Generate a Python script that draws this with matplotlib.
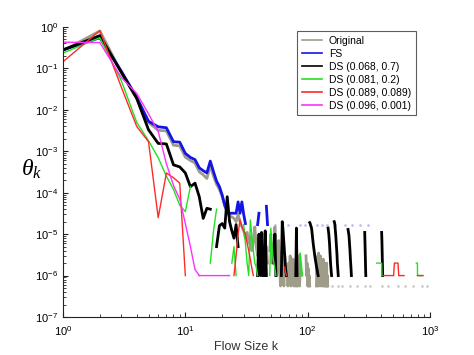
import numpy as np
import matplotlib
matplotlib.use("Agg")
import matplotlib.pyplot as plt
from matplotlib.ticker import FixedLocator, LogFormatterMathtext, NullFormatter

plt.rcParams['font.family'] = ['Liberation Sans', 'DejaVu Sans']
plt.rcParams['mathtext.fontset'] = 'custom'
plt.rcParams['mathtext.rm'] = 'Liberation Sans'
plt.rcParams['mathtext.it'] = 'Liberation Serif:italic'

# each series: runs of consecutive flow sizes (start k, values) + a few sparse points
orig_start = [1, 49, 68, 84, 97, 118]
orig_vals = [
    [0.27, 0.80, 0.08, 0.019, 5.0e-3, 3.2e-3, 3.1e-3, 1.4e-3, 1.35e-3, 7.2e-4,
     6.0e-4, 5.2e-4, 3.2e-4, 2.7e-4, 2.2e-4, 4.5e-4, 2.5e-4, 1.6e-4, 1.2e-4, 8.0e-5,
     4.8e-5, 3.3e-5, 2.8e-5, 2.6e-5, 2.4e-5, 2.0e-5, 3.0e-5, 2.0e-5, 1.5e-5, 1.2e-5,
     8e-6, 1.1e-5, 6e-6, 9e-6, 4e-6, 7e-6, 1.5e-5, 5e-6, 3e-6, 8e-6,
     2e-6, 6e-6, 4e-6, 1e-5, 3e-6, 5e-6, 2e-6],
    [4e-6, 1e-5, 2e-6, 6e-6, 3e-6, 1.5e-5, 4e-6, 1e-6, 3e-6, 7e-6,
     2e-6, 5.6e-7, 2e-6, 4e-6, 1e-6, 5.6e-7, 3e-6, 1e-6],
    [1e-6, 5.6e-7, 2e-6, 1e-6, 3e-6, 5.6e-7, 2e-6, 1e-6, 2.5e-6, 5.6e-7,
     1.5e-6, 5.6e-7, 2e-6, 1e-6, 5.6e-7],
    [1e-6, 3e-6, 5.6e-7, 2e-6, 1e-6],
    [3e-6, 1e-6, 2e-6, 5.6e-7, 1.5e-6, 5.6e-7, 1e-6, 5.6e-7],
    [5.6e-7, 2e-6, 1e-6, 3e-6, 5.6e-7, 3.5e-6, 1e-6, 2e-6, 5.6e-7, 3e-6,
     1e-6, 2e-6, 5.6e-7, 1.5e-6, 1e-6, 5.6e-7, 2.5e-6, 1e-6, 5.6e-7, 2e-6,
     5.6e-7, 1.5e-6, 5.6e-7, 1e-6, 5.6e-7, 2e-6, 5.6e-7, 1e-6, 5.6e-7],
]
orig_dot_k = [158, 177, 192, 222, 254, 295, 324, 406, 456, 551, 628, 727, 863, 954]
orig_dot_v = 5.5e-7

fs_start = [1, 39, 46]
fs_vals = [
    [0.28, 0.55, 0.085, 0.02, 5.3e-3, 3.9e-3, 3.7e-3, 1.7e-3, 1.66e-3, 8.9e-4,
     7.1e-4, 6.3e-4, 4.0e-4, 3.4e-4, 3.0e-4, 5.8e-4, 3.2e-4, 1.9e-4, 1.4e-4, 8.9e-5,
     5.0e-5, 3.5e-5, 3.2e-5, 3.2e-5, 3.2e-5, 3.2e-5, 6.0e-5, 3.2e-5, 6.0e-5, 3.0e-5,
     1.8e-5],
    [1.7e-5, 3.2e-5],
    [4.7e-5, 1.7e-5],
]
fs_dot_k = [54, 69, 87, 95, 119, 131, 144, 167, 202, 231, 268, 311]
fs_dot_v = 1.66e-5

ds1_start = [1, 18, 39, 44, 53, 61, 80, 104, 147, 165, 214, 293, 403]
ds1_vals = [
    [0.28, 0.62, 0.08, 0.019, 3.3e-3, 1.55e-3, 1.5e-3, 4.7e-4, 4.2e-4, 3.0e-4,
     1.4e-4, 1.7e-4, 8e-5, 2.4e-5, 4.2e-5, 4.0e-5],
    [5e-6, 1.6e-5, 1.8e-5, 1.4e-5, 8e-5, 2e-5, 1.2e-5, 8e-6, 1.7e-5, 5e-6],
    [1e-6, 1e-5, 1e-6, 1.1e-5, 1e-6],
    [1e-6, 1.2e-5, 1e-6],
    [2e-6, 1e-5, 1e-6],
    [1e-6, 2e-5, 1.2e-5, 6e-6, 3e-6, 1.5e-6, 1e-6],
    [1e-6, 1.4e-5, 1e-6],
    [1.9e-5, 1.8e-5, 1.6e-5, 1.5e-5, 1.3e-5, 1.0e-5, 8e-6, 6e-6, 5e-6, 4e-6,
     3.2e-6, 2.7e-6, 2.3e-6, 2e-6, 1.7e-6, 1.5e-6, 1.3e-6, 1.1e-6, 1e-6],
    [1.4e-5, 1.2e-5, 1e-5, 8e-6, 6e-6, 4e-6, 3e-6, 2e-6, 1.5e-6, 1.2e-6, 1e-6],
    [2e-5, 1.9e-5, 1.7e-5, 1.4e-5, 1.1e-5, 9e-6, 7e-6, 5e-6, 4e-6, 3e-6,
     2e-6, 1.6e-6, 1.2e-6, 1e-6],
    [1.3e-5, 1.2e-5, 1.1e-5, 1e-5, 9e-6, 7e-6, 6e-6, 5e-6, 4e-6, 3e-6,
     2.4e-6, 2e-6, 1.6e-6, 1.2e-6, 1e-6],
    [1.1e-5, 8e-6, 5e-6, 3e-6, 2e-6, 1.4e-6, 1e-6],
    [1.1e-5, 9e-6, 7e-6, 5e-6, 3.5e-6, 2.5e-6, 1.8e-6, 1.3e-6, 1e-6],
]

ds2_start = [1, 16, 24, 30, 49, 86]
ds2_vals = [
    [0.235, 0.55, 0.05, 5e-3, 1.8e-3, 7e-4, 2.5e-4, 1.2e-4, 5e-5, 3.5e-5, 1.4e-4],
    [2e-6, 1.2e-5, 4e-5],
    [2e-6, 5e-6, 1e-6],
    [1.7e-5, 6e-6, 2e-6, 1e-6, 2.2e-5, 9e-6, 4e-6, 2e-6, 1.6e-6, 1e-6],
    [1e-6, 1.4e-5, 6e-6, 3e-6, 2e-6, 1.5e-6, 1e-6],
    [1e-6, 3.5e-6, 2.5e-6, 1.8e-6, 1.3e-6, 1e-6],
]
ds2_far_k = [367, 403, 405, np.nan, 775, 790, 792, 860]
ds2_far_v = [2e-6, 2e-6, 1e-6, np.nan, 2e-6, 2e-6, 1e-6, 1e-6]

ds3_start = [1, 25, 65]
ds3_vals = [
    [0.145, 0.82, 0.035, 4e-3, 1.7e-3, 2.5e-5, 3e-4, 2.3e-4, 1.7e-4, 1e-6],
    [1e-6, 3e-6, 1e-5, 2.2e-5, 1.5e-5, 1.2e-5, 1e-5, 6e-6, 4e-6, 2.5e-6, 1.5e-6, 1e-6],
    [1.6e-6, 1.2e-6, 1e-6],
]
ds3_far_k = [415, 505, 512, 548, 556, 615, np.nan, 790, 880]
ds3_far_v = [1e-6, 1e-6, 2e-6, 2e-6, 1e-6, 1e-6, np.nan, 1e-6, 1e-6]

ds4_start = [1]
ds4_vals = [
    [0.43, 0.42, 0.06, 0.025, 8e-3, 3e-3, 5e-4, 1.5e-4, 7e-5, 1.8e-5, 5e-6, 1.4e-6, 1e-6],
]
ds4_far_k = [13, 23]
ds4_far_v = [1e-6, 1e-6]

labels = ['Original', 'FS', 'DS (0.068, 0.7)', 'DS (0.081, 0.2)',
          'DS (0.089, 0.089)', 'DS (0.096, 0.001)']
colors = ['#a09c8a', '#1414e6', '#000000', '#22e022', '#ff2a2a', '#ff30ff']
widths = [2.0, 2.0, 2.0, 1.0, 1.0, 1.0]
x_decades = [1, 10, 100, 1000]
y_decades = [1e-7, 1e-6, 1e-5, 1e-4, 1e-3, 1e-2, 1e-1, 1]


def stitch(starts, vals, far_k=None, far_v=None):
    ks, vs = [], []
    for s, v in zip(starts, vals):
        ks += list(range(s, s + len(v))) + [np.nan]
        vs += list(v) + [np.nan]
    if far_k is not None:
        ks += list(far_k)
        vs += list(far_v)
    return np.array(ks, float), np.array(vs, float)


series = [
    stitch(orig_start, orig_vals),
    stitch(fs_start, fs_vals),
    stitch(ds1_start, ds1_vals),
    stitch(ds2_start, ds2_vals, ds2_far_k, ds2_far_v),
    stitch(ds3_start, ds3_vals, ds3_far_k, ds3_far_v),
    stitch(ds4_start, ds4_vals, ds4_far_k, ds4_far_v),
]

fig = plt.figure(figsize=(4.74, 3.55), dpi=100)
ax = fig.add_axes([0.133, 0.107, 0.774, 0.817])

# faint isolated points
ax.plot(fs_dot_k, [fs_dot_v] * len(fs_dot_k), ls='none', marker='s', ms=0.8,
        color='#b8bcf0')
ax.plot(orig_dot_k, [orig_dot_v] * len(orig_dot_k), ls='none', marker='s', ms=0.8,
        color='#c8c8c0')

for (k, v), lab, c, w in zip(series, labels, colors, widths):
    ax.plot(k, v, color=c, lw=w, label=lab)

ax.set_xscale('log')
ax.set_yscale('log')
ax.set_xlim(1, 1000)
ax.set_ylim(1e-7, 1)

# minor ticks 2..9 inside each decade
x_minor = [m * d for d in x_decades[:-1] for m in range(2, 10)]
y_minor = [m * d for d in y_decades[:-1] for m in range(2, 10)]
ax.xaxis.set_major_locator(FixedLocator(x_decades))
ax.yaxis.set_major_locator(FixedLocator(y_decades))
ax.xaxis.set_minor_locator(FixedLocator(x_minor))
ax.yaxis.set_minor_locator(FixedLocator(y_minor))
ax.xaxis.set_major_formatter(LogFormatterMathtext())
ax.yaxis.set_major_formatter(LogFormatterMathtext())
ax.xaxis.set_minor_formatter(NullFormatter())
ax.yaxis.set_minor_formatter(NullFormatter())
ax.tick_params(which='both', direction='in', labelsize=8, color='#222222')
ax.tick_params(which='major', length=3.5, width=0.8)
ax.tick_params(which='minor', length=2, width=0.6)
ax.tick_params(axis='x', which='major', pad=5)
ax.spines['top'].set_visible(False)
ax.spines['right'].set_visible(False)
for s in ['left', 'bottom']:
    ax.spines[s].set_linewidth(0.8)
    ax.spines[s].set_color('#222222')

ax.set_xlabel('Flow Size k', fontsize=9, color='#333333', labelpad=2)
ax.set_ylabel(r'$\theta_k$', fontsize=17, rotation=0, labelpad=14)
ax.yaxis.set_label_coords(-0.085, 0.47)

leg = ax.legend(loc='upper left', bbox_to_anchor=(0.638, 0.985), fontsize=7.5,
                frameon=True, fancybox=False, edgecolor='#333333',
                handlelength=1.9, handletextpad=0.7, labelspacing=0.28,
                borderpad=0.45, borderaxespad=0)
leg.get_frame().set_linewidth(0.8)
for line in leg.get_lines():
    line.set_linewidth(1.2)

fig.savefig('out.png', dpi=100)
